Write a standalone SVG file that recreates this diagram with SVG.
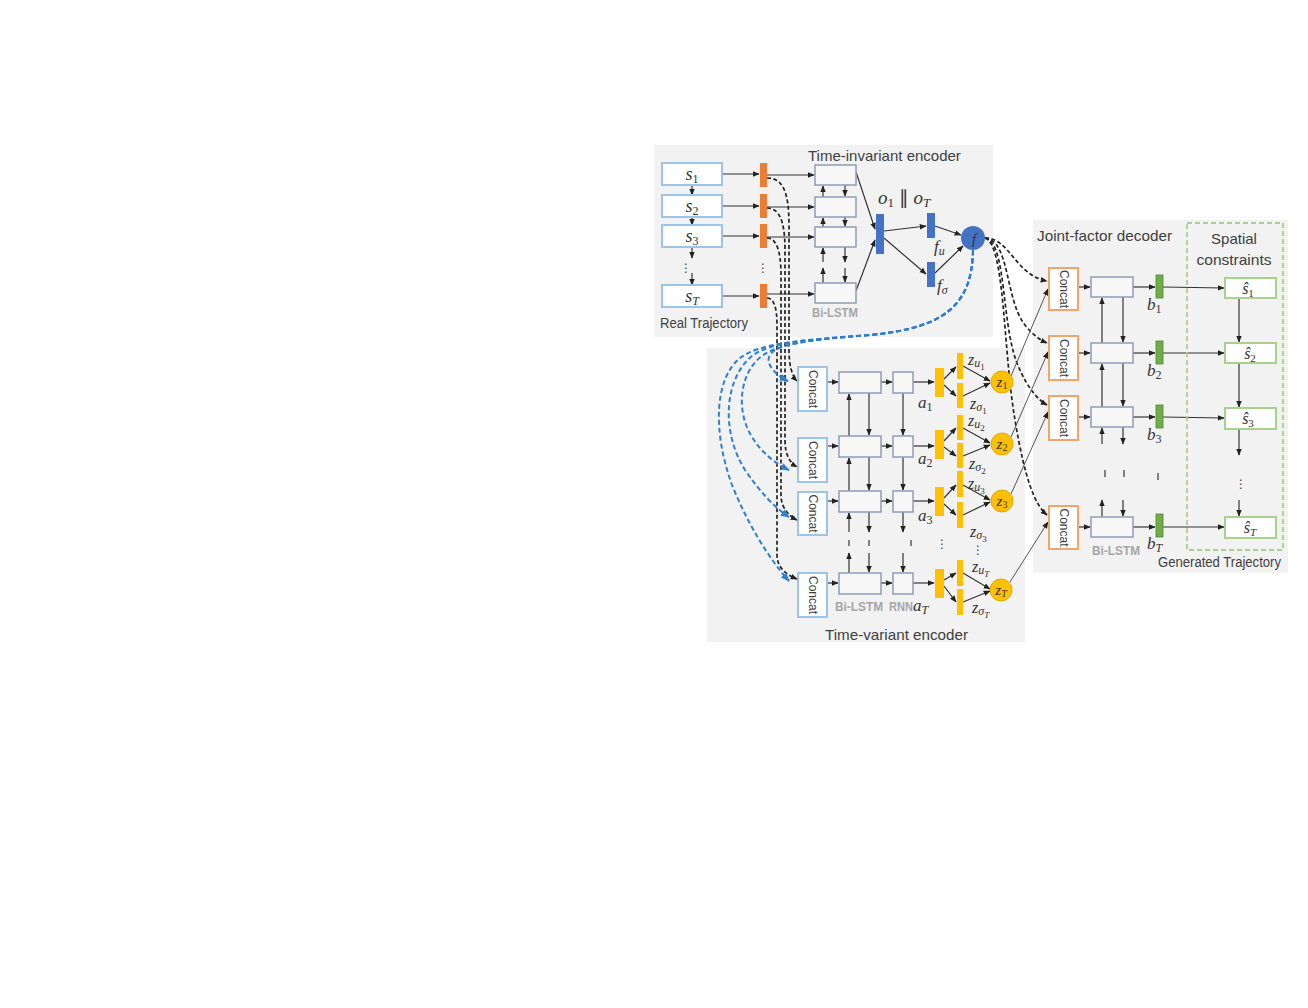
<svg xmlns="http://www.w3.org/2000/svg" width="1308" height="1008" viewBox="0 0 1308 1008">
<defs>
<style>
.panel{fill:#f2f2f2}
.sbox{fill:#fff;stroke:#9dc3e6;stroke-width:2}
.cbox{fill:#fff;stroke:#9dc3e6;stroke-width:2}
.obox{fill:#fff;stroke:#f4a46a;stroke-width:2}
.gbox{fill:#fff;stroke:#a9d18e;stroke-width:2}
.lstm{fill:#f7f7f7;stroke:#8f9db5;stroke-width:1.5}
.ln{stroke:#333;stroke-width:1.2;fill:none}
.thin{stroke:#555;stroke-width:1;fill:none}
.dash{stroke:#222;stroke-width:1.7;stroke-dasharray:4 2.5;fill:none}
.bdash{stroke:#2f7fd0;stroke-width:2;stroke-dasharray:5 3;fill:none}
.lbl{font-family:"Liberation Sans",Arial,sans-serif;fill:#404040}
.gray{font-family:"Liberation Sans",Arial,sans-serif;fill:#a6a6a6;font-weight:bold}
.math{font-family:"Liberation Serif","Times New Roman",serif;font-style:italic;fill:#333}
.up{font-style:normal}
.rot{font-family:"Liberation Sans",Arial,sans-serif;fill:#404040;font-size:12px}
.or{fill:#ed7d31}
.bl{fill:#4472c4}
.ye{fill:#ffc000}
.gr{fill:#70ad47;stroke:#548235;stroke-width:0.8}
.zc{fill:#ffc000;stroke:#e0a800;stroke-width:1}
.dots{font-family:"DejaVu Sans",sans-serif;fill:#444;font-size:12px}
</style>
<marker id="ah" viewBox="0 0 10 10" refX="9" refY="5" markerWidth="7" markerHeight="7" markerUnits="userSpaceOnUse" orient="auto"><path d="M0,1 L10,5 L0,9 z" fill="#222"/></marker>
<marker id="ahb" viewBox="0 0 10 10" refX="9" refY="5" markerWidth="9" markerHeight="9" markerUnits="userSpaceOnUse" orient="auto"><path d="M0,1 L10,5 L0,9 z" fill="#2f7fd0"/></marker>
</defs>
<rect width="1308" height="1008" fill="#fff"/>

<g id="panels">
<rect class="panel" x="654" y="145" width="339" height="192"/>
<rect class="panel" x="707" y="348" width="318" height="294"/>
<rect class="panel" x="1033" y="220" width="255" height="353"/>
</g>

<g id="connectors">
<line class="ln" x1="692" y1="185" x2="692" y2="195" marker-end="url(#ah)"/>
<line class="ln" x1="692" y1="217" x2="692" y2="225" marker-end="url(#ah)"/>
<line class="ln" x1="692" y1="247" x2="692" y2="258" marker-end="url(#ah)"/>
<line class="ln" x1="692" y1="273" x2="692" y2="285" marker-end="url(#ah)"/>
<line class="ln" x1="722" y1="174" x2="759" y2="174" marker-end="url(#ah)"/>
<line class="ln" x1="722" y1="206" x2="759" y2="206" marker-end="url(#ah)"/>
<line class="ln" x1="722" y1="236" x2="759" y2="236" marker-end="url(#ah)"/>
<line class="ln" x1="722" y1="296" x2="759" y2="296" marker-end="url(#ah)"/>
<line class="ln" x1="767" y1="175" x2="814" y2="175" marker-end="url(#ah)"/>
<line class="ln" x1="767" y1="207" x2="814" y2="207" marker-end="url(#ah)"/>
<line class="ln" x1="767" y1="237" x2="814" y2="237" marker-end="url(#ah)"/>
<line class="ln" x1="767" y1="294" x2="814" y2="294" marker-end="url(#ah)"/>
<line class="ln" x1="823" y1="197" x2="823" y2="186" marker-end="url(#ah)"/>
<line class="ln" x1="845" y1="185" x2="845" y2="196" marker-end="url(#ah)"/>
<line class="ln" x1="823" y1="227" x2="823" y2="218" marker-end="url(#ah)"/>
<line class="ln" x1="845" y1="217" x2="845" y2="226" marker-end="url(#ah)"/>
<line class="ln" x1="823" y1="262" x2="823" y2="248" marker-end="url(#ah)"/>
<line class="ln" x1="823" y1="283" x2="823" y2="268" marker-end="url(#ah)"/>
<line class="ln" x1="845" y1="247" x2="845" y2="262" marker-end="url(#ah)"/>
<line class="ln" x1="845" y1="268" x2="845" y2="282" marker-end="url(#ah)"/>
<line class="ln" x1="856" y1="172" x2="875" y2="229" marker-end="url(#ah)"/>
<line class="ln" x1="856" y1="291" x2="875" y2="240" marker-end="url(#ah)"/>
<line class="ln" x1="884" y1="231" x2="926" y2="226" marker-end="url(#ah)"/>
<line class="ln" x1="884" y1="238" x2="926" y2="274" marker-end="url(#ah)"/>
<line class="ln" x1="935" y1="226" x2="961" y2="235" marker-end="url(#ah)"/>
<line class="ln" x1="935" y1="273" x2="963" y2="246" marker-end="url(#ah)"/>

<path class="dash" d="M767,178 C782,178 789,190 789,225 L789,350 C789,365 792,376 797,381" marker-end="url(#ah)"/>
<path class="dash" d="M767,208 C779,208 785,220 785,250 L785,440 C785,455 790,463 797,467" marker-end="url(#ah)"/>
<path class="dash" d="M767,238 C776,238 781,250 781,275 L781,495 C781,508 789,516 797,520" marker-end="url(#ah)"/>
<path class="dash" d="M767,298 C774,298 777,308 777,325 L777,555 C777,568 787,575 797,579" marker-end="url(#ah)"/>

<path class="bdash" d="M973,250 C972,305 945,328 870,335 C820,339 790,342 775,350 C762,358 770,372 788,381" marker-end="url(#ahb)"/>
<path class="bdash" d="M973,250 C972,305 945,328 870,335 C810,340 780,343 762,356 C740,372 735,410 752,437 C763,455 777,464 789,470" marker-end="url(#ahb)"/>
<path class="bdash" d="M973,250 C972,305 945,328 870,335 C805,340 770,342 752,356 C725,378 720,430 745,470 C760,492 775,508 789,517" marker-end="url(#ahb)"/>
<path class="bdash" d="M973,250 C972,305 945,328 870,335 C800,340 760,343 740,358 C715,378 712,430 732,485 C748,525 770,560 789,581" marker-end="url(#ahb)"/>

<path class="dash" d="M985,238 C1010,238 1015,275 1047,281" marker-end="url(#ah)"/>
<path class="dash" d="M985,238 C1010,240 1005,300 1025,325 C1033,335 1040,340 1047,343" marker-end="url(#ah)"/>
<path class="dash" d="M985,238 C1008,242 1000,330 1020,370 C1028,388 1038,400 1047,405" marker-end="url(#ah)"/>
<path class="dash" d="M985,238 C1005,244 1003,350 1015,420 C1025,480 1035,505 1047,515" marker-end="url(#ah)"/>

<line class="ln" x1="827" y1="382" x2="838" y2="382" marker-end="url(#ah)"/>
<line class="ln" x1="827" y1="446" x2="838" y2="446" marker-end="url(#ah)"/>
<line class="ln" x1="827" y1="501" x2="838" y2="501" marker-end="url(#ah)"/>
<line class="ln" x1="827" y1="583" x2="838" y2="583" marker-end="url(#ah)"/>
<line class="ln" x1="881" y1="382" x2="892" y2="382" marker-end="url(#ah)"/>
<line class="ln" x1="881" y1="446" x2="892" y2="446" marker-end="url(#ah)"/>
<line class="ln" x1="881" y1="501" x2="892" y2="501" marker-end="url(#ah)"/>
<line class="ln" x1="881" y1="583" x2="892" y2="583" marker-end="url(#ah)"/>
<line class="ln" x1="913" y1="382" x2="934" y2="382" marker-end="url(#ah)"/>
<line class="ln" x1="913" y1="446" x2="934" y2="446" marker-end="url(#ah)"/>
<line class="ln" x1="913" y1="501" x2="934" y2="501" marker-end="url(#ah)"/>
<line class="ln" x1="913" y1="583" x2="934" y2="583" marker-end="url(#ah)"/>
<line class="ln" x1="849" y1="436" x2="849" y2="394" marker-end="url(#ah)"/>
<line class="ln" x1="869" y1="393" x2="869" y2="435" marker-end="url(#ah)"/>
<line class="ln" x1="849" y1="491" x2="849" y2="458" marker-end="url(#ah)"/>
<line class="ln" x1="869" y1="457" x2="869" y2="490" marker-end="url(#ah)"/>
<line class="ln" x1="849" y1="532" x2="849" y2="513" marker-end="url(#ah)"/>
<line class="ln" x1="869" y1="512" x2="869" y2="532" marker-end="url(#ah)"/>
<line class="ln" x1="849" y1="573" x2="849" y2="553" marker-end="url(#ah)"/>
<line class="ln" x1="869" y1="553" x2="869" y2="572" marker-end="url(#ah)"/>
<line class="ln" x1="903" y1="393" x2="903" y2="435" marker-end="url(#ah)"/>
<line class="ln" x1="903" y1="457" x2="903" y2="490" marker-end="url(#ah)"/>
<line class="ln" x1="903" y1="512" x2="903" y2="532" marker-end="url(#ah)"/>
<line class="ln" x1="903" y1="553" x2="903" y2="572" marker-end="url(#ah)"/>
<line class="ln" x1="849" y1="540" x2="849" y2="546"/>
<line class="ln" x1="869" y1="540" x2="869" y2="546"/>
<line class="ln" x1="911" y1="540" x2="911" y2="546"/>

<line class="ln" x1="944" y1="379" x2="956" y2="367" marker-end="url(#ah)"/>
<line class="ln" x1="944" y1="385" x2="956" y2="396" marker-end="url(#ah)"/>
<line class="ln" x1="944" y1="441" x2="956" y2="428" marker-end="url(#ah)"/>
<line class="ln" x1="944" y1="447" x2="956" y2="456" marker-end="url(#ah)"/>
<line class="ln" x1="944" y1="498" x2="956" y2="485" marker-end="url(#ah)"/>
<line class="ln" x1="944" y1="504" x2="956" y2="515" marker-end="url(#ah)"/>
<line class="ln" x1="944" y1="580" x2="956" y2="573" marker-end="url(#ah)"/>
<line class="ln" x1="944" y1="586" x2="956" y2="602" marker-end="url(#ah)"/>

<line class="ln" x1="963" y1="366" x2="990" y2="381" marker-end="url(#ah)"/>
<line class="ln" x1="963" y1="396" x2="990" y2="383" marker-end="url(#ah)"/>
<line class="ln" x1="963" y1="428" x2="990" y2="443" marker-end="url(#ah)"/>
<line class="ln" x1="963" y1="456" x2="990" y2="445" marker-end="url(#ah)"/>
<line class="ln" x1="963" y1="485" x2="990" y2="500" marker-end="url(#ah)"/>
<line class="ln" x1="963" y1="515" x2="990" y2="502" marker-end="url(#ah)"/>
<line class="ln" x1="963" y1="573" x2="990" y2="589" marker-end="url(#ah)"/>
<line class="ln" x1="963" y1="602" x2="990" y2="591" marker-end="url(#ah)"/>

<line class="thin" x1="1011" y1="376" x2="1048" y2="289" marker-end="url(#ah)"/>
<line class="thin" x1="1011" y1="437" x2="1048" y2="352" marker-end="url(#ah)"/>
<line class="thin" x1="1011" y1="494" x2="1048" y2="412" marker-end="url(#ah)"/>
<line class="thin" x1="1010" y1="582" x2="1048" y2="522" marker-end="url(#ah)"/>

<line class="ln" x1="1078" y1="287" x2="1090" y2="287" marker-end="url(#ah)"/>
<line class="ln" x1="1078" y1="353" x2="1090" y2="353" marker-end="url(#ah)"/>
<line class="ln" x1="1078" y1="417" x2="1090" y2="417" marker-end="url(#ah)"/>
<line class="ln" x1="1078" y1="527" x2="1090" y2="527" marker-end="url(#ah)"/>
<line class="ln" x1="1133" y1="287" x2="1155" y2="287" marker-end="url(#ah)"/>
<line class="ln" x1="1133" y1="353" x2="1155" y2="353" marker-end="url(#ah)"/>
<line class="ln" x1="1133" y1="417" x2="1155" y2="417" marker-end="url(#ah)"/>
<line class="ln" x1="1133" y1="527" x2="1155" y2="527" marker-end="url(#ah)"/>
<line class="ln" x1="1163" y1="287" x2="1224" y2="288" marker-end="url(#ah)"/>
<line class="ln" x1="1163" y1="353" x2="1224" y2="353" marker-end="url(#ah)"/>
<line class="ln" x1="1163" y1="417" x2="1224" y2="418" marker-end="url(#ah)"/>
<line class="ln" x1="1163" y1="527" x2="1224" y2="527" marker-end="url(#ah)"/>
<line class="ln" x1="1102" y1="343" x2="1102" y2="298" marker-end="url(#ah)"/>
<line class="ln" x1="1123" y1="297" x2="1123" y2="342" marker-end="url(#ah)"/>
<line class="ln" x1="1102" y1="407" x2="1102" y2="364" marker-end="url(#ah)"/>
<line class="ln" x1="1123" y1="363" x2="1123" y2="406" marker-end="url(#ah)"/>
<line class="ln" x1="1102" y1="444" x2="1102" y2="428" marker-end="url(#ah)"/>
<line class="ln" x1="1123" y1="427" x2="1123" y2="444" marker-end="url(#ah)"/>
<line class="ln" x1="1102" y1="517" x2="1102" y2="500" marker-end="url(#ah)"/>
<line class="ln" x1="1123" y1="500" x2="1123" y2="516" marker-end="url(#ah)"/>
<line class="ln" x1="1105" y1="470" x2="1105" y2="477"/>
<line class="ln" x1="1124" y1="470" x2="1124" y2="477"/>
<line class="ln" x1="1158" y1="473" x2="1158" y2="480"/>
<line class="ln" x1="1239" y1="298" x2="1239" y2="342" marker-end="url(#ah)"/>
<line class="ln" x1="1239" y1="363" x2="1239" y2="407" marker-end="url(#ah)"/>
<line class="ln" x1="1239" y1="429" x2="1239" y2="455" marker-end="url(#ah)"/>
<line class="ln" x1="1239" y1="500" x2="1239" y2="516" marker-end="url(#ah)"/>
</g>

<g id="time-invariant-encoder">
<text class="lbl" x="808" y="161" font-size="15">Time-invariant encoder</text>
<text class="lbl" x="660" y="328" font-size="14" textLength="88" lengthAdjust="spacingAndGlyphs">Real Trajectory</text>
</g>
<g id="s1"><rect class="sbox" x="662" y="163" width="60" height="22"/><text class="math" x="692" y="180" font-size="18" text-anchor="middle">s<tspan class="up" font-size="12" dy="3">1</tspan></text></g>
<g id="s2"><rect class="sbox" x="662" y="195" width="60" height="22"/><text class="math" x="692" y="212" font-size="18" text-anchor="middle">s<tspan class="up" font-size="12" dy="3">2</tspan></text></g>
<g id="s3"><rect class="sbox" x="662" y="225" width="60" height="22"/><text class="math" x="692" y="242" font-size="18" text-anchor="middle">s<tspan class="up" font-size="12" dy="3">3</tspan></text></g>
<text class="dots" x="680" y="272">⋮</text>
<g id="sT"><rect class="sbox" x="662" y="285" width="60" height="22"/><text class="math" x="692" y="302" font-size="18" text-anchor="middle">s<tspan font-size="12" dy="3">T</tspan></text></g>

<g id="emb">
<rect class="or" x="760" y="163" width="7" height="24"/>
<rect class="or" x="760" y="194" width="7" height="24"/>
<rect class="or" x="760" y="224" width="7" height="24"/>
<text class="dots" x="757" y="272">⋮</text>
<rect class="or" x="760" y="284" width="7" height="24"/>
</g>

<g id="ti-bilstm">
<rect class="lstm" x="815" y="165" width="41" height="20"/>
<rect class="lstm" x="815" y="197" width="41" height="20"/>
<rect class="lstm" x="815" y="227" width="41" height="20"/>
<rect class="lstm" x="815" y="283" width="41" height="20"/>
<text class="gray" x="812" y="317" font-size="12" textLength="46" lengthAdjust="spacingAndGlyphs">Bi-LSTM</text>
</g>

<g id="o-bar">
<rect class="bl" x="876" y="214" width="8" height="40"/>
<text class="math" x="878" y="204" font-size="19">o<tspan class="up" font-size="13" dy="3">1</tspan><tspan class="up" dy="-3"> ∥ </tspan>o<tspan font-size="13" dy="3">T</tspan></text>
</g>
<g id="f-mu"><rect class="bl" x="927" y="213" width="8" height="25"/><text class="math" x="934" y="252" font-size="17">f<tspan font-size="12" dy="3">u</tspan></text></g>
<g id="f-sigma"><rect class="bl" x="927" y="262" width="8" height="25"/><text class="math" x="937" y="291" font-size="17">f<tspan font-size="12" dy="3">σ</tspan></text></g>
<g id="f"><circle class="bl" cx="973" cy="238" r="12"/><text class="math" x="974" y="244" font-size="15" text-anchor="middle" fill="#222">f</text></g>

<g id="time-variant-encoder">
<text class="lbl" x="825" y="640" font-size="15" textLength="143" lengthAdjust="spacingAndGlyphs">Time-variant encoder</text>
<text class="gray" x="835" y="611" font-size="12" textLength="48" lengthAdjust="spacingAndGlyphs">Bi-LSTM</text>
<text class="gray" x="889" y="611" font-size="12" textLength="24" lengthAdjust="spacingAndGlyphs">RNN</text>
</g>
<g id="concat-tv1"><rect class="cbox" x="798" y="367" width="29" height="44"/><text class="rot" transform="translate(812.5,389) rotate(90)" text-anchor="middle" dy="4">Concat</text></g>
<g id="concat-tv2"><rect class="cbox" x="798" y="438" width="29" height="44"/><text class="rot" transform="translate(812.5,460) rotate(90)" text-anchor="middle" dy="4">Concat</text></g>
<g id="concat-tv3"><rect class="cbox" x="798" y="492" width="29" height="43"/><text class="rot" transform="translate(812.5,513.5) rotate(90)" text-anchor="middle" dy="4">Concat</text></g>
<g id="concat-tvT"><rect class="cbox" x="798" y="573" width="29" height="44"/><text class="rot" transform="translate(812.5,595) rotate(90)" text-anchor="middle" dy="4">Concat</text></g>

<g id="tv-bilstm">
<rect class="lstm" x="839" y="372" width="42" height="21"/>
<rect class="lstm" x="839" y="436" width="42" height="21"/>
<rect class="lstm" x="839" y="491" width="42" height="21"/>
<rect class="lstm" x="839" y="573" width="42" height="21"/>
</g>
<g id="tv-rnn">
<rect class="lstm" x="893" y="372" width="20" height="21"/>
<rect class="lstm" x="893" y="436" width="20" height="21"/>
<rect class="lstm" x="893" y="491" width="20" height="21"/>
<rect class="lstm" x="893" y="573" width="20" height="21"/>
</g>

<g id="a1"><rect class="ye" x="935" y="368" width="9" height="29"/><text class="math" x="918" y="408" font-size="17">a<tspan class="up" font-size="12" dy="3">1</tspan></text></g>
<g id="a2"><rect class="ye" x="935" y="430" width="9" height="29"/><text class="math" x="918" y="464" font-size="17">a<tspan class="up" font-size="12" dy="3">2</tspan></text></g>
<g id="a3"><rect class="ye" x="935" y="487" width="9" height="29"/><text class="math" x="918" y="521" font-size="17">a<tspan class="up" font-size="12" dy="3">3</tspan></text></g>
<text class="dots" x="936" y="548">⋮</text>
<g id="aT"><rect class="ye" x="935" y="569" width="9" height="29"/><text class="math" x="913" y="611" font-size="17">a<tspan font-size="12" dy="3">T</tspan></text></g>

<g id="z1-params">
<rect class="ye" x="957" y="353" width="6" height="26"/><rect class="ye" x="957" y="383" width="6" height="25"/>
<text class="math" x="968" y="365" font-size="16">z<tspan font-size="12" dy="2">u</tspan><tspan class="up" font-size="9" dy="3">1</tspan></text>
<text class="math" x="970" y="409" font-size="16">z<tspan font-size="12" dy="2">σ</tspan><tspan class="up" font-size="9" dy="3">1</tspan></text>
</g>
<g id="z2-params">
<rect class="ye" x="957" y="415" width="6" height="25"/><rect class="ye" x="957" y="443" width="6" height="25"/>
<text class="math" x="968" y="426" font-size="16">z<tspan font-size="12" dy="2">u</tspan><tspan class="up" font-size="9" dy="3">2</tspan></text>
<text class="math" x="969" y="469" font-size="16">z<tspan font-size="12" dy="2">σ</tspan><tspan class="up" font-size="9" dy="3">2</tspan></text>
</g>
<g id="z3-params">
<rect class="ye" x="957" y="471" width="6" height="26"/><rect class="ye" x="957" y="502" width="6" height="26"/>
<text class="math" x="968" y="489" font-size="16">z<tspan font-size="12" dy="2">u</tspan><tspan class="up" font-size="9" dy="3">3</tspan></text>
<text class="math" x="970" y="537" font-size="16">z<tspan font-size="12" dy="2">σ</tspan><tspan class="up" font-size="9" dy="3">3</tspan></text>
</g>
<text class="dots" x="972" y="554">⋮</text>
<g id="zT-params">
<rect class="ye" x="957" y="560" width="6" height="26"/><rect class="ye" x="957" y="589" width="6" height="26"/>
<text class="math" x="972" y="572" font-size="16">z<tspan font-size="12" dy="2">u</tspan><tspan font-size="9" dy="3">T</tspan></text>
<text class="math" x="972" y="613" font-size="16">z<tspan font-size="12" dy="2">σ</tspan><tspan font-size="9" dy="3">T</tspan></text>
</g>
<g id="z1"><circle class="zc" cx="1002" cy="382" r="11"/><text class="math" x="1002" y="387" font-size="15" text-anchor="middle">z<tspan class="up" font-size="10" dy="2">1</tspan></text></g>
<g id="z2"><circle class="zc" cx="1002" cy="444" r="11"/><text class="math" x="1002" y="449" font-size="15" text-anchor="middle">z<tspan class="up" font-size="10" dy="2">2</tspan></text></g>
<g id="z3"><circle class="zc" cx="1002" cy="501" r="11"/><text class="math" x="1002" y="506" font-size="15" text-anchor="middle">z<tspan class="up" font-size="10" dy="2">3</tspan></text></g>
<g id="zT"><circle class="zc" cx="1001" cy="590" r="11"/><text class="math" x="1001" y="595" font-size="15" text-anchor="middle">z<tspan font-size="10" dy="2">T</tspan></text></g>

<g id="joint-factor-decoder">
<text class="lbl" x="1037" y="241" font-size="15" textLength="135" lengthAdjust="spacingAndGlyphs">Joint-factor decoder</text>
<text class="gray" x="1092" y="555" font-size="12" textLength="48" lengthAdjust="spacingAndGlyphs">Bi-LSTM</text>
</g>
<g id="concat-d1"><rect class="obox" x="1049" y="268" width="29" height="42"/><text class="rot" transform="translate(1063.5,289) rotate(90)" text-anchor="middle" dy="4">Concat</text></g>
<g id="concat-d2"><rect class="obox" x="1049" y="336" width="29" height="44"/><text class="rot" transform="translate(1063.5,358) rotate(90)" text-anchor="middle" dy="4">Concat</text></g>
<g id="concat-d3"><rect class="obox" x="1049" y="396" width="29" height="44"/><text class="rot" transform="translate(1063.5,418) rotate(90)" text-anchor="middle" dy="4">Concat</text></g>
<g id="concat-dT"><rect class="obox" x="1049" y="506" width="29" height="43"/><text class="rot" transform="translate(1063.5,527.5) rotate(90)" text-anchor="middle" dy="4">Concat</text></g>
<g id="dec-bilstm">
<rect class="lstm" x="1091" y="277" width="42" height="20"/>
<rect class="lstm" x="1091" y="343" width="42" height="20"/>
<rect class="lstm" x="1091" y="407" width="42" height="20"/>
<rect class="lstm" x="1091" y="517" width="42" height="20"/>
</g>
<g id="b1"><rect class="gr" x="1156" y="275" width="7" height="23"/><text class="math" x="1147" y="310" font-size="17">b<tspan class="up" font-size="12" dy="3">1</tspan></text></g>
<g id="b2"><rect class="gr" x="1156" y="341" width="7" height="23"/><text class="math" x="1147" y="376" font-size="17">b<tspan class="up" font-size="12" dy="3">2</tspan></text></g>
<g id="b3"><rect class="gr" x="1156" y="405" width="7" height="23"/><text class="math" x="1147" y="440" font-size="17">b<tspan class="up" font-size="12" dy="3">3</tspan></text></g>
<g id="bT"><rect class="gr" x="1156" y="514" width="7" height="23"/><text class="math" x="1147" y="549" font-size="17">b<tspan font-size="12" dy="3">T</tspan></text></g>

<g id="spatial-constraints">
<rect x="1187" y="223" width="96" height="327" fill="none" stroke="#a9d18e" stroke-width="1.8" stroke-dasharray="5 3"/>
<text class="lbl" x="1234" y="244" font-size="15" text-anchor="middle">Spatial</text>
<text class="lbl" x="1234" y="265" font-size="15" text-anchor="middle" textLength="75" lengthAdjust="spacingAndGlyphs">constraints</text>
<text class="lbl" x="1158" y="567" font-size="14" textLength="123" lengthAdjust="spacingAndGlyphs">Generated Trajectory</text>
<text class="dots" x="1235" y="488">⋮</text>
</g>
<g id="shat1"><rect class="gbox" x="1225" y="278" width="51" height="20"/><text class="math" x="1248" y="294" font-size="16" text-anchor="middle">ŝ<tspan class="up" font-size="11" dy="3">1</tspan></text></g>
<g id="shat2"><rect class="gbox" x="1225" y="343" width="51" height="20"/><text class="math" x="1250" y="359" font-size="16" text-anchor="middle">ŝ<tspan class="up" font-size="11" dy="3">2</tspan></text></g>
<g id="shat3"><rect class="gbox" x="1225" y="408" width="51" height="21"/><text class="math" x="1248" y="424" font-size="16" text-anchor="middle">ŝ<tspan class="up" font-size="11" dy="3">3</tspan></text></g>
<g id="shatT"><rect class="gbox" x="1225" y="517" width="51" height="21"/><text class="math" x="1250" y="533" font-size="16" text-anchor="middle">ŝ<tspan font-size="11" dy="3">T</tspan></text></g>
</svg>
